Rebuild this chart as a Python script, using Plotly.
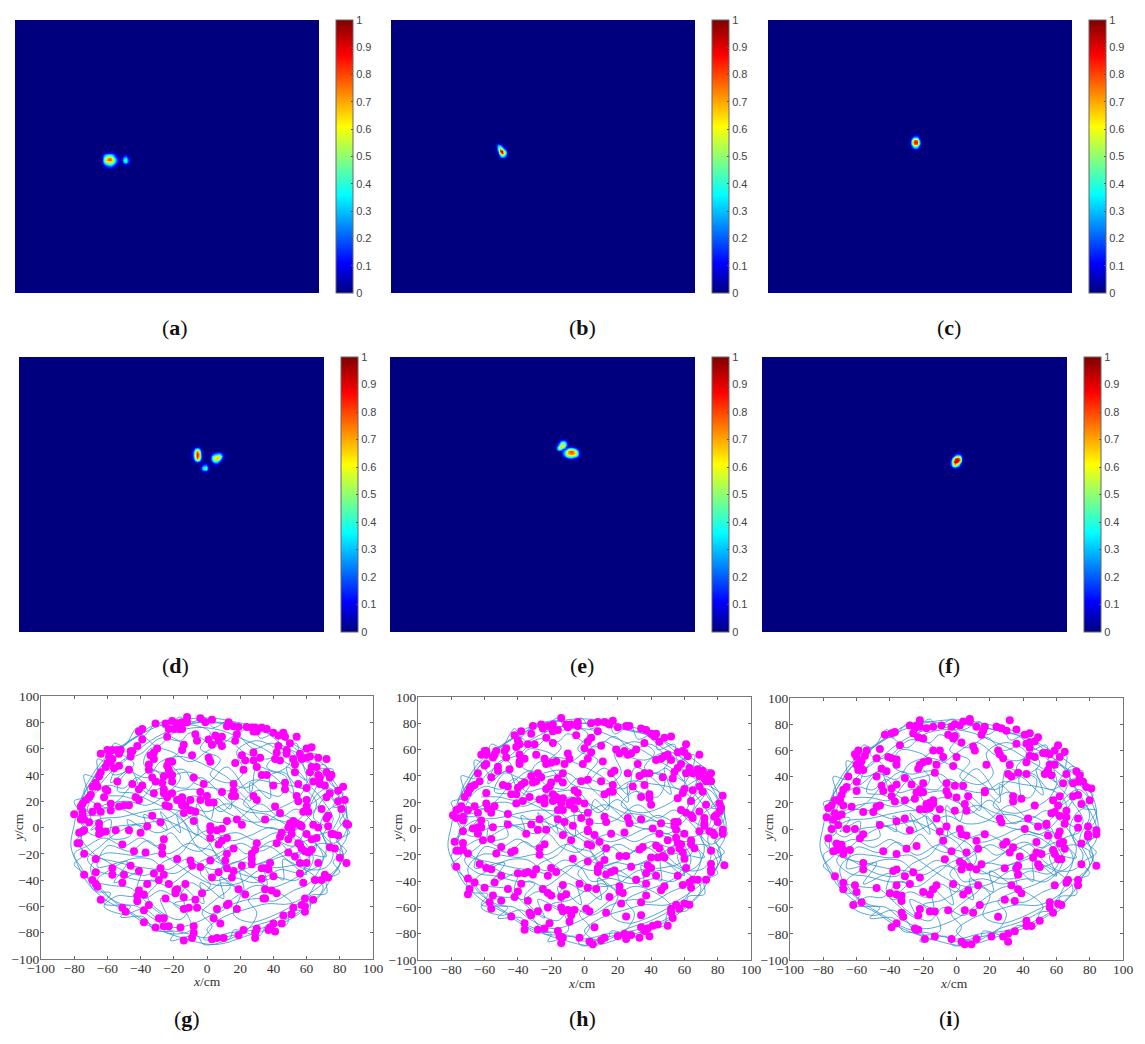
import numpy as np
import plotly.graph_objects as go

W, H = 1145, 1044
PAGE_PAD = 8  # body margin of the written page
ROWS, COLS = 124, 138

# heat blobs, values on a grid of roughly 2.2px cells
A_BLOB_1 = [
    [0, .05, .1, .12, .12, .1, .05, 0, 0],
    [.05, .25, .4, .45, .42, .3, .15, .03, 0],
    [.1, .4, .65, .78, .72, .5, .3, .1, .02],
    [.12, .42, .7, .8, .75, .55, .35, .12, .02],
    [.08, .35, .5, .55, .55, .45, .3, .1, 0],
    [.03, .2, .35, .42, .42, .3, .15, .03, 0],
    [0, .05, .12, .18, .18, .1, .03, 0, 0],
]
A_BLOB_2 = [
    [.02, .12, .15, .03],
    [.1, .3, .35, .1],
    [.15, .4, .42, .15],
    [.1, .3, .35, .12],
    [.02, .1, .12, .03],
]
B_BLOB = [
    [.02, .15, .12, .02, 0, 0],
    [.08, .35, .4, .2, .03, 0],
    [.05, .35, .75, .6, .2, .02],
    [.02, .25, .85, .95, .45, .05],
    [0, .12, .6, .9, .55, .08],
    [0, .03, .25, .45, .3, .05],
    [0, 0, .03, .08, .05, 0],
]
C_BLOB = [
    [0, .03, .1, .1, .03, 0],
    [.02, .2, .45, .4, .12, 0],
    [.05, .4, .8, .75, .3, .02],
    [.08, .5, .9, .88, .4, .05],
    [.05, .42, .8, .75, .35, .03],
    [.01, .18, .4, .35, .12, 0],
    [0, .02, .08, .06, .01, 0],
]
D_BLOB_1 = [
    [0, .05, .1, .08, 0, 0],
    [.03, .3, .45, .3, .05, 0],
    [.1, .5, .75, .55, .15, 0],
    [.12, .6, .85, .7, .2, .01],
    [.12, .6, .85, .7, .25, .01],
    [.1, .5, .8, .6, .2, 0],
    [.03, .3, .5, .4, .1, 0],
    [0, .08, .15, .1, .02, 0],
]
D_BLOB_2 = [
    [0, .08, .2, .25, .28, .2, .05],
    [.05, .3, .5, .6, .65, .4, .08],
    [.05, .35, .6, .7, .6, .3, .03],
    [.03, .3, .5, .5, .35, .1, 0],
    [0, .12, .3, .3, .12, .02, 0],
    [0, .02, .08, .06, .01, 0, 0],
]
D_BLOB_3 = [
    [.03, .15, .18, .05],
    [.12, .38, .42, .15],
    [.12, .38, .42, .12],
    [.02, .12, .12, .02],
]
E_BLOB_1 = [
    [0, 0, .03, .12, .15, .05, 0],
    [0, .02, .12, .35, .42, .2, .02],
    [0, .1, .3, .55, .6, .3, .03],
    [.03, .25, .55, .7, .45, .12, 0],
    [.03, .25, .45, .35, .12, .02, 0],
    [0, .05, .1, .08, .02, 0, 0],
]
E_BLOB_2 = [
    [0, 0, .03, .1, .15, .15, .08, .02, 0, 0],
    [0, .05, .2, .4, .5, .5, .35, .15, .03, 0],
    [.03, .2, .5, .7, .8, .8, .65, .4, .12, .01],
    [.03, .25, .55, .7, .75, .78, .7, .45, .15, .02],
    [.01, .12, .35, .45, .5, .5, .4, .25, .08, 0],
    [0, .02, .1, .18, .22, .2, .12, .05, 0, 0],
]
F_BLOB = [
    [0, 0, 0, .05, .12, .08, .01, 0],
    [0, 0, .1, .35, .5, .4, .08, 0],
    [0, .08, .4, .75, .85, .65, .15, 0],
    [.01, .2, .6, .9, .95, .7, .15, 0],
    [.02, .25, .7, .95, .85, .45, .05, 0],
    [.01, .2, .55, .7, .45, .15, 0, 0],
    [0, .05, .2, .25, .12, .02, 0, 0],
]
# (first column, first row, values)
HEAT_BLOBS = [
    [(39, 60, A_BLOB_1), (48, 61, A_BLOB_2)],
    [(47, 56, B_BLOB)],
    [(64, 52, C_BLOB)],
    [(78, 40, D_BLOB_1), (86, 43, D_BLOB_2), (82, 48, D_BLOB_3)],
    [(74, 37, E_BLOB_1), (77, 40, E_BLOB_2)],
    [(84, 43, F_BLOB)],
]
CB_TICKS = [0, .1, .2, .3, .4, .5, .6, .7, .8, .9, 1]
AXIS_TICKS = [-100, -80, -60, -40, -20, 0, 20, 40, 60, 80, 100]
LETTERS = ["a", "b", "c", "d", "e", "f", "g", "h", "i"]

# the walked path, the same one in all three lower panels
TRAJ = [
    (84,-27),(80,-18),(84,-8),(85,5),(82,18),(78,28),(72,40),(62,50),(55,58),(45,68),(32,76),(18,80),(5,83),(-8,83),(-22,80),
    (-35,74),(-48,64),(-58,55),(-66,42),(-73,28),(-78,14),(-80,2),(-82,-14),(-78,-28),(-72,-42),(-60,-56),(-48,-64),(-36,-74),
    (-15,-84),(5,-89),(25,-82),(40,-76),(55,-66),(68,-52),(75,-38),(82,-20),(70,-12),(58,-18),(45,-22),(30,-28),(18,-26),(5,-32),
    (-8,-28),(-20,-35),(-30,-32),(-42,-30),(-55,-26),(-68,-22),(-76,-15),(-74,-2),(-66,6),(-52,8),(-38,12),(-28,14),(-15,12),
    (-8,4),(-2,-5),(8,-12),(12,-22),(8,-35),(14,-45),(5,-55),(-3,-65),(3,-75),(-2,-85),(12,-83),(24,-78),(30,-65),(25,-55),(35,-48),
    (48,-42),(58,-35),(68,-28),(72,-15),(68,0),(72,12),(80,20),(74,30),(66,25),(60,12),(52,4),(40,6),(28,4),(14,10),(4,18),(-8,24),
    (-18,20),(-25,30),(-35,28),(-42,38),(-50,30),(-60,32),(-68,25),(-72,12),(-60,18),(-48,20),(-36,17),(-26,24),(-16,38),(-22,50),
    (-14,62),(-24,72),(-10,78),(2,72),(-4,60),(8,52),(2,40),(14,34),(22,42),(18,58),(30,66),(42,58),(36,46),(48,38),(44,24),(30,28),
    (22,18),(34,12),(46,16),(56,24),(62,38),(70,48),(76,36),(82,24),(84,8),(78,-4),(82,-22),(76,-34),(66,-42),(60,-54),(48,-62),
    (38,-68),(26,-72),(16,-66),(20,-50),(10,-42),(0,-48),(-10,-42),(-18,-52),(-28,-48),(-38,-54),(-46,-46),(-58,-44),(-70,-40),
    (-76,-30),(-80,-20),(-72,-14),(-62,-8),(-50,-14),(-40,-8),(-30,-14),(-22,-4),(-14,-14),(-4,-18),(6,-8),(18,-4),(30,-10),(42,-4),
    (54,-10),(62,-22),(56,-34),(44,-32),(34,-38),(22,-36),(12,-30),(0,-24),(-12,-34),(-24,-44),(-34,-40),(-44,-52),(-54,-52),
    (-62,-60),(-50,-66),(-38,-62),(-30,-70),(-24,-80),(-10,-78),(-12,-66),(-20,-58),(-8,-54),(2,-44),(-4,-34),(10,-20),(20,-12),
    (32,-18),(44,-12),(52,-24),(62,-32),(72,-30),(76,-20),(70,-6),(76,6),(70,20),(62,32),(54,44),(44,52),(34,60),(20,68),(8,74),
    (-6,76),(-20,72),(-30,62),(-40,70),(-52,58),(-44,48),(-56,40),(-62,48),(-70,34),(-76,20),(-70,8),(-76,-6),(-70,-18),(-60,-26),
    (-48,-34),(-36,-36),(-26,-26),(-16,-20),(-8,-8),(2,-2),(14,-10),(26,-6),(38,0),(50,-4),(60,6),(66,18),(60,28),(50,32),(40,34),
    (28,36),(16,28),(4,30),(-8,34),(-14,44),(-28,42),(-38,48),(-34,60),(-22,58),(-10,50),(0,58),(12,66),(24,56),(36,52),(50,58),
    (60,44),(70,34),(76,22),(80,10),(74,-8),(80,-28),(72,-40),(62,-50),(50,-58),(36,-58),(24,-62),(10,-68),(0,-78),(10,-86),(26,-76),
    (40,-70),(52,-60),(44,-50),(30,-44),(18,-52),(8,-62),(-6,-72),(-20,-76),(-34,-68),(-42,-60),(-52,-58),(-64,-48),(-70,-30),
    (-62,-20),(-52,-20),(-40,-22),(-28,-20),(-18,-28),(-6,-38),(6,-44),(20,-42),(32,-32),(46,-30),(58,-26),(66,-14),(60,-4),(48,2),
    (36,10),(24,12),(12,18),(0,12),(-12,16),(-22,8),(-34,4),(-46,2),(-58,0),(-68,-6),(-76,4),(-74,16),(-66,30),(-58,42),(-46,54),
    (-34,66),(-18,76),(-2,80),(14,78),(28,74),(42,70),(54,62),(66,52),(74,42),(66,36),(56,30),(46,42),(34,38),(22,30),(10,40),(-2,48),
    (-16,54),(-28,50),(-36,38),(-48,42),(-54,28),(-44,26),(-34,20),(-24,14),(-14,4),(-6,-14),(4,-18),(14,-34),(26,-30),(38,-24),
    (50,-16),(62,-10),(70,-22),(62,-42),(52,-48),(40,-56),(30,-54),(16,-58),(4,-66),(-8,-60),(-16,-70),(-28,-64),(-36,-52),(-30,-42),
    (-42,-40),(-54,-36),(-64,-34),(-72,-24),(-64,-14),(-54,-4),(-42,2),(-30,-4),(-18,2),(-6,10),(6,4),(18,6),(32,18),(44,8),(54,14),
    (64,4),(76,-12),(84,-2),(80,14),(74,24),(66,44),(58,54),(46,62),(36,72),(22,76),(8,80),(-6,80),(-18,82),(-32,78),(-44,68),(-54,60),
    (-62,52),(-70,38),(-74,26),(-64,16),(-52,14),(-40,8),(-26,6),(-12,-2),(0,-10),(10,-28),(22,-24),(36,-14),(50,-26),(64,-36),(70,-46),
    (60,-60),(44,-72),(28,-78),(14,-80),(0,-84),(-14,-80),(-30,-76),(-44,-66),(-58,-54),(-66,-40),(-58,-32),(-46,-24),(-34,-24),
    (-24,-32),(-12,-24),(-2,-30),(4,-40),(16,-38),(28,-42),(42,-38),(54,-40),(64,-24),(56,-8),(44,-2),(30,2),(18,14),(8,26),(-4,38),
    (-12,30),(-24,34),(-32,44),(-44,34),(-54,20),(-66,12),(-78,8),
    # wigglier stretches, mostly the rim and the crowded upper half
    (-72,-2),(-79,-10),(-74,-20),(-80,-28),(-73,-36),(-68,-48),(-58,-50),(-62,-58),(-46,-60),(-52,-68),(-38,-68),(-32,-78),(-20,-80),
    (-22,-86),(-6,-82),(-2,-89),(14,-84),(16,-78),(32,-82),(36,-74),(48,-74),(50,-64),(62,-62),(62,-52),(72,-50),(72,-40),(80,-34),
    (76,-26),(84,-18),(78,-10),(86,-4),(80,4),(84,14),(76,16),(82,26),(74,34),(76,44),(66,46),(66,56),(56,52),(54,64),(44,60),(42,72),
    (32,68),(28,78),(18,72),(14,82),(4,76),(-2,84),(-12,78),(-16,84),(-26,76),(-30,80),(-38,70),(-42,76),(-50,62),(-56,64),(-60,50),
    (-66,52),(-66,38),(-74,40),(-72,24),(-80,20),(-74,10),(-64,8),(-70,-2),(-58,6),(-58,-8),(-46,-6),(-48,6),(-36,-2),(-38,10),(-24,-2),
    (-28,12),(-16,-4),(-18,10),(-6,-6),(-6,18),(2,6),(6,22),(14,14),(16,30),(26,20),(26,34),(38,22),(38,40),(52,26),(48,46),(60,36),
    (58,50),(68,42),(62,18),(72,26),(64,8),(74,-2),(64,-8),(72,-22),(56,-20),(60,-36),(46,-24),(46,-40),(34,-28),(36,-44),(20,-32),
    (22,-48),(8,-38),(10,-54),(-4,-42),(-2,-58),(-16,-44),(-14,-60),(-28,-54),(-24,-68),(-42,-48),(-40,-34),(-56,-42),(-48,-26),
    (-66,-30),(-60,-14),(-46,-18),(-36,-10),(-24,-20),(-10,-12),(2,-22),(16,-14),(24,-20),(40,-10),(52,-14),(58,-2),(44,10),(34,4),
    (20,22),(8,12),(-4,28),(-16,28),(-28,22),(-40,30),(-46,44),(-58,34),(-52,50),(-40,56),(-28,68),(-16,66),(-10,72),(6,62),(18,70),
    (28,60),(40,64),(50,50),(42,42),(30,46),(26,26),(12,46),(0,34),(-10,42),(-20,40),(-30,36),(-40,22),(-52,24),(-62,24),
]

G_DOTS = [
    (-12,84),(-12,80),(-4,83),(3,82),(-1,80),(-31,79),(-25,79),(-21,81),(-18,79),(-15,80),(-23,75),(-20,75),(-17,75),(-15,75),(13,80),(12,77),(16,77),(19,76.5),(24,76.5),(27,76),(29,76),(33,76),(36,75),(28,73),(30,73),(40,72),(43,70),(46,72),(47,69),(54,69),(50,64),(43,62),(-39,75),(-41,73),(-39,67),(-42,62),(-24,69),(-7,71),(5,70),(1,67),(9,69),(7,66),(-6,66),(3,63),(9,62),(17,66),(18,71),
    (-14,63),(-15,59),(-9,55),(-30,60),(-32,57),(-34,55),(-32,52),(-35,48),(-35,44),(-23,50),(-21,50),(-24,47),(-23,44),(-22,40),(-26,39),(1,53),(2,50),(21,55),(23,51),(17,49),(22,44),(28,57),(28,51),(32,53),(30,46),(33,40),(36,40),(42,57),(48,59),(48,56),(41,52),(44,51),(52,52),(53,48),(53,42),(56,56),(57,52),(60,53),(62,54),(60,60),(63,61),(67,53),(72,52),(63,46),(66,46),(62,42),(67,40),(68,38),(72,42),(75,40),(74,38),(64,35),(68,33),(71,32),(79,28),(82,31),(74,26),(83,21),(79,20),(72,23),(81,14),(69,14),(73,9),(72,7),(73,1),(84,3),(85,2),
    (-64,56),(-60,59),(-57,59),(-59,54),(-54,59),(-52,59),(-53,56),(-46,58),(-45,58),(-46,54),(-57,52),(-60,49),(-58,49),(-61,46),(-56,45),(-53,47),(-47,44),(-64,42),(-65,39),(-67,34),(-69,31),(-66,31),(-54,35),(-45,33),(-39,32),(-41,29),(-33,38),(-31,35),(-27,34),(-61,29),(-60,28),(-62,23),(-70,25),(-71,23),(-73,21),(-75,18),(-76,16),(-66,16),(-58,18),(-58,13),(-64,12),(-69,12),(-53,16),(-50,17),(-47,17),(-43,23),(-41,21),(-32,26),(-26,29),(-26,26),(-24,25),(-21,26),(-24,23),(-21,40),(-21,35),(-25,17),(-23,16),
    (-18,21),(-15,23),(-10,21),(-15,19),(-13,17),(-15,17),(-14,11),(-10,13),(-7,12),(-4,27),(-2,33),(-8,38),(0,24),(-4,21),(1,19),(4,19),(9,27),(16,33),(16,28),(15,24),(17,24),(28,24),(30,21),(40,32),(47,34),(47,29),(54,24),(55,33),(60,30),(60,21),(55,20),(60,16),(41,16),(44,11),(58,12),(61,12),
    (-80,10),(-75,12),(-75,9),(-76,6),(-74,6),(-71,4),(-65,3),(-33,9),(-28,4),(-36,1),(-8,5),(12,5),(18,6),(21,2),(35,6),(2,1),(2,-2),(6,-2),(9,-1),(-65,-1),(-64,-4),(-61,-3),(-65,-5),(-55,-2),(-47,-2),(-40,-4),(-75,-3),(-74,-2),(-77,-4),
    (50,3),(52,5),(54,3),(56,2),(57,1),(49,0),(51,-1),(45,-4),(51,-5),(44,-7),(64,2),(67,0),(60,-5),(63,-9),(66,-8),(75,-5),(76,-5),(79,-6),
    (-77,-12),(-78,-12),(-26,-9),(2,-8),(12,-8),(9,-10),(7,-13),(49,-9),(55,-12),(-51,-13),(-27,-15),(30,-12),(42,-12),(74,-15),(77,-16),(56,-13),(57,-16),(59,-18),(61,-19),(63,-17),
    (-74,-20),(-44,-18),(-37,-19),(-27,-20),(16,-16),(12,-20),(29,-17),(27,-20),(49,-19),(53,-22),(80,-23),(84,-27),
    (-67,-24),(-18,-24),(-10,-25),(2,-25),(11,-25),(27,-24),(27,-28),(-9,-29),(-4,-30),(21,-29),(56,-27),(60,-27),(67,-27),(-46,-29),(-28,-31),(-57,-31),(12,-31),(38,-27),(36,-31),(33,-31),(37,-32),(-67,-34),(-41,-33),(-32,-35),(-26,-36),(-57,-36),(-50,-36),(-74,-36),(7,-34),(16,-33),(56,-35),(3,-38),(15,-38),(33,-39),(40,-37),(65,-40),(69,-40),(71,-36),(73,-38),(-69,-40),
    (-29,-40),(-51,-42),(-36,-43),(-23,-43),(-13,-43),(-67,-43),(-66,-45),(58,-42),(-18,-47),(-19,-48),(19,-47),(35,-47),(39,-48),(42,-50),(-41,-48),(-38,-51),(-19,-50),(-3,-50),(23,-51),
    (-42,-52),(-14,-53),(-64,-55),(-42,-56),(-25,-54),(-7,-55),(34,-54),(35,-54),(59,-54),(64,-55),(-35,-59),(13,-58),(12,-59),(57,-59),(59,-60),(52,-61),(-51,-61),(-14,-62),(-11,-61),(-6,-61),(6,-62),(18,-62),(-49,-64),(-38,-63),(59,-64),(51,-66),(46,-67),
    (4,-69),(-29,-69),(-26,-69),(-38,-72),(8,-73),(45,-73),(40,-73),(-31,-76),(-26,-75),(-23,-75),(-16,-76),(-8,-75),(38,-76),(37,-78),(41,-79),(30,-77),(22,-78),(29,-80),(19,-82),(-8,-80),(-9,-84),(29,-84),(10,-84),(6,-84),(3,-85),(-14,-86),
]
H_DOTS = [
    (-14,84),(17,82),(12,81),(14,80),(8,81),(4,80),(-4,81),(-4,78),(-11,79),(-8,79),(-10,77),(-19,79),(-22,78),(-26,79),(-31,78),(-25,76),(-19,74),(-16,75),(-32,72),(-38,74),(-42,71),(-23,69),(-19,65),(-5,71),(8,74),(4,69),(2,66),(10,63),(15,79),(20,77),(25,78),(27,78),(34,76),(37,75),(40,72),(43,72),(42,70),(48,69),(52,70),(45,66),(36,65),
    (-40,67),(-41,62),(-39,64),(-34,64),(-30,64),(-47,61),(-48,59),(-47,54),(-53,59),(-54,56),(-55,54),(-59,59),(-60,59),(-62,56),(-59,56),(-29,56),(-39,56),(-36,53),(-39,51),(-39,49),(-24,53),(-23,49),(-20,50),(-17,51),(-10,57),(-9,53),(-12,49),(-1,49),(0,61),(4,58),(2,53),(11,51),(19,60),(21,57),(24,59),(26,56),(28,57),(31,60),(32,49),
    (-59,49),(-60,48),(-52,47),(-52,44),(-45,45),(-64,42),(-56,39),(-63,36),(-66,33),(-68,32),(-69,30),(-70,27),(-72,24),(-59,27),(-49,33),(-46,32),(-36,35),(-38,33),(-40,31),(-44,26),(-41,26),(-33,24),(-32,40),(-28,42),(-26,39),(-31,35),(-29,36),(-20,35),(-21,32),(-23,30),(-13,42),(-16,38),(-13,35),(-2,36),(2,37),(10,36),(17,33),(16,42),(18,44),(26,42),(33,40),(36,42),(39,42),(36,33),(29,32),(12,26),(15,28),(17,28),(34,24),(39,26),(39,23),(40,18),
    (47,39),(53,38),(54,43),(56,46),(58,49),(63,46),(61,42),(43,52),(46,53),(48,55),(50,56),(52,52),(56,58),(59,59),(61,64),(60,58),(62,55),(69,56),(68,45),(71,44),(65,42),(69,40),(72,38),(75,41),(76,42),(73,36),(75,37),(76,36),(69,32),(71,28),(65,29),(60,30),(59,27),(64,21),(56,23),(73,18),(83,25),(81,19),(82,16),(81,13),(79,10),(80,5),(69,13),
    (-9,20),(-7,21),(-4,21),(0,19),(-6,29),(-4,27),(-13,23),(-16,22),(-19,26),(-17,24),(-24,23),(-27,22),(-24,19),(-19,21),(-14,19),(-16,14),(-13,14),(-6,15),(-9,18),(-41,19),(-37,21),(-46,11),(-59,19),(-54,17),(-58,15),(-56,12),
    (-79,10),(-77,8),(-77,14),(-74,17),(-75,15),(-70,14),(-66,17),(-64,12),(-73,9),(-73,6),(-62,6),(-46,3),(-27,7),(-16,7),(-12,5),(-2,8),(2,12),(3,5),(12,9),(13,5),(26,8),(27,4),(34,7),(46,4),(54,5),(56,5),(58,14),(61,12),(64,10),(65,8),(72,8),(72,4),(78,9),
    (-73,-2),(-67,0),(-64,1),(-62,1),(-64,-4),(-55,1),(-61,-9),(-56,-8),(-35,-4),(-32,3),(-28,-1),(-23,-1),(-13,-5),(-7,2),(2,-1),(2,-2),(6,-5),(16,-4),(24,-3),(41,0),(45,-4),(54,2),(55,-1),(60,-4),(69,-2),(72,2),(75,-2),(77,-3),(78,-5),(83,-1),(83,-4),(55,-7),(64,-9),
    (-78,-10),(-73,-11),(-8,-9),(9,-10),(50,-9),(56,-11),(-77,-17),(-75,-17),(-73,-16),(-70,-19),(-50,-14),(-53,-19),(-44,-18),(-42,-17),(-24,-12),(-27,-15),(-27,-20),(2,-12),(4,-13),(13,-15),(33,-16),(35,-14),(43,-13),(45,-15),(52,-17),(57,-15),(59,-18),(64,-12),(66,-15),(76,-17),(58,-12),
    (-7,-23),(2,-25),(12,-24),(21,-21),(25,-21),(28,-29),(40,-22),(44,-22),(47,-21),(48,-22),(60,-23),(61,-30),(76,-27),(76,-31),(76,-33),(84,-28),
    (-77,-29),(-63,-27),(-59,-30),(-56,-31),(-29,-31),(-20,-30),(9,-28),(8,-30),(8,-33),(18,-32),(16,-33),(13,-35),(38,-28),(40,-30),(37,-34),(43,-36),(56,-36),(31,-39),
    (-70,-38),(-66,-41),(-54,-41),(-50,-36),(-40,-34),(-36,-34),(-34,-33),(-31,-35),(-38,-42),(-22,-36),(-17,-33),(-13,-43),(-3,-42),(37,-42),(59,-43),(63,-41),(65,-39),(68,-39),(73,-39),(64,-45),
    (-69,-46),(-70,-50),(-60,-45),(-46,-46),(-40,-48),(-42,-52),(-25,-46),(-22,-49),(-20,-51),(2,-45),(7,-46),(21,-44),(21,-48),(23,-49),(48,-44),(46,-47),(37,-51),(-11,-50),(-14,-52),(15,-52),
    (-55,-51),(-57,-56),(-50,-55),(-34,-55),(22,-57),(34,-56),(-56,-61),(-22,-60),(-14,-60),(-13,-63),(-10,-62),(-6,-62),(1,-61),(3,-63),(-28,-63),(-33,-64),(-32,-66),(-44,-67),(-8,-66),(13,-64),(25,-67),(34,-66),(55,-58),(52,-61),(57,-61),(60,-57),(63,-58),(52,-64),(53,-68),
    (-36,-72),(-36,-77),(-9,-71),(-21,-72),(-24,-76),(6,-75),(-28,-77),(-16,-78),(34,-75),(36,-78),(38,-76),(41,-74),(44,-73),(50,-74),(-15,-82),(-13,-83),(-14,-87),(-3,-83),(12,-83),(10,-85),(20,-82),(24,-80),(25,-84),(28,-81),(33,-83),(39,-82),(3,-86),(5,-88),
]
I_DOTS = [
    (-22,83),(8,84),(8,82),(4,82),(32,83),(-28,79),(-24,79),(-25,77),(-26,73),(-22,78),(-18,77),(-14,78),(-9,79),(-3,78),(-1,80),(2,79),(12,78),(17,78),(16,75),(15,72),(24,78),(27,77),(30,75),(36,76),(41,72),(44,73),(49,70),(47,67),(42,65),(44,66),(44,62),(36,65),(-37,74),(-39,73),(-43,72),(-23,70),(-20,69),(-5,72),(-1,71),(-2,69),(3,66),(10,63),(11,60),
    (-34,64),(-46,61),(-54,60),(-59,60),(-61,57),(-60,55),(-55,56),(-57,52),(-48,54),(-41,55),(-39,54),(-36,53),(-36,49),(-60,49),(-58,49),(-59,45),(-56,45),(-45,46),(-42,44),(-48,40),(-65,40),(-60,36),(-31,39),(-45,33),(-36,34),(-39,31),(-44,29),(-60,29),(-66,32),(-68,30),(-69,26),(-70,23),(-73,22),(-70,21),(-68,18),(-63,17),(-39,25),(-37,21),(-31,22),(-46,18),(-48,17),(-50,13),(-56,13),
    (-27,34),(-20,35),(-13,43),(-12,49),(-14,60),(-10,60),(-8,55),(0,55),(-2,48),(-23,46),(-22,49),(-20,51),(-17,52),(18,49),(25,60),(26,57),(28,54),(32,49),(31,42),(33,40),(37,43),(42,42),(42,51),(44,56),(47,55),(52,58),(54,58),(56,57),(59,60),(61,64),(62,55),(65,59),(56,49),(59,49),(55,45),(53,42),(55,43),(57,41),(66,42),(72,44),(74,41),(64,35),(70,35),(73,36),(76,36),(78,32),(81,31),(73,26),(70,25),(62,25),(58,22),(75,19),(80,22),(61,18),(66,14),(57,12),(59,13),(62,10),(66,9),(65,4),(73,8),(73,1),(79,2),
    (-6,35),(-1,33),(4,33),(-6,29),(-5,26),(0,24),(7,25),(17,28),(17,29),(5,19),(34,25),(34,21),(39,23),(47,18),
    (-24,28),(-22,28),(-20,28),(-22,30),(-25,23),(-14,22),(-16,20),(-18,19),(-14,19),(-22,15),(-19,15),(-16,16),(-10,15),(-1,14),(6,14),
    (-77,16),(-75,18),(-73,12),(-69,11),(-78,9),(-74,7),(-71,10),(-71,3),(-36,6),(-31,8),(-12,8),(26,8),(27,5),(43,8),(-46,3),
    (-75,0),(-66,0),(-61,0),(-56,-4),(-58,-7),(-28,-1),(-6,2),(-10,-2),(2,0),(3,-4),(6,-5),(17,-4),(41,0),(49,2),(54,4),(54,3),(62,-2),(61,-5),(55,-5),(79,-4),(79,-6),(84,-1),(84,-4),(-77,-7),
    (-72,-11),(-69,-12),(-8,-9),(12,-9),(30,-10),(28,-12),(34,-14),(48,-10),(64,-10),(62,-11),(75,-11),(-74,-17),(-72,-16),(-68,-16),(-64,-16),(-68,-19),(-44,-17),(-36,-19),(-30,-15),(-24,-13),(-3,-17),(6,-18),(13,-15),(58,-16),(59,-19),(65,-15),(32,-18),(38,-21),(48,-18),(51,-19),(46,-22),
    (-7,-23),(2,-25),(61,-23),(63,-23),(4,-27),(3,-31),(8,-29),(12,-31),(15,-27),(29,-30),(37,-28),(36,-30),(37,-35),(49,-27),(50,-29),(75,-27),(84,-28),(-56,-26),(-56,-31),(-38,-32),(-36,-31),(-26,-33),
    (-73,-36),(-68,-41),(-61,-43),(-48,-45),(-36,-43),(-31,-36),(-28,-42),(-22,-37),(-2,-42),(13,-43),(33,-43),(59,-43),(66,-41),(67,-39),(73,-39),(73,-43),
    (-68,-46),(-60,-48),(-40,-49),(-36,-50),(-33,-51),(-33,-55),(-20,-48),(-16,-50),(-14,-46),(-12,-43),(7,-47),(4,-50),(37,-46),(39,-49),(29,-54),(35,-55),
    (-62,-58),(-57,-56),(-22,-61),(14,-58),(56,-56),(56,-60),(61,-57),(63,-58),(58,-64),(-33,-64),(-32,-67),(-23,-66),(-16,-63),(-13,-63),(-5,-62),(5,-62),(10,-64),(25,-67),(50,-70),
    (-39,-75),(-36,-72),(-25,-76),(-23,-77),(-24,-77),(42,-70),(42,-74),(45,-74),(31,-80),(35,-78),(28,-82),(-19,-84),(-13,-82),(-3,-84),(12,-84),(21,-82),(31,-86),(3,-86),(5,-88),(9,-88),
]
DOTS = [G_DOTS, H_DOTS, I_DOTS]

JET = [[0, "#00007f"], [.11, "#0000ff"], [.36, "#00ffff"], [.61, "#ffff00"], [.87, "#ff0000"], [1, "#7f0000"]]

# panel frames in page pixels: left, right, top, bottom
HEAT_BOX = [(15, 319, 20, 293), (391, 695, 20, 293), (768, 1072, 20, 293),
            (19, 324, 357, 632), (390, 695, 357, 632), (762, 1067, 357, 632)]
CB_LEFT = [336, 712, 1089, 341, 712, 1084]
TRAJ_BOX = [(41, 373, 696, 959), (418, 751, 697, 960), (790, 1123, 698, 960)]
X_TITLE_POS = [(207, 981), (582, 983), (954, 983)]
Y_TITLE_POS = [(18, 828), (397, 828), (768, 828)]
LABEL_POS = [(175, 327), (582, 327), (949, 327), (175, 665), (582, 665), (949, 665),
             (187, 1018), (582, 1018), (949, 1018)]

PW, PH = W - PAGE_PAD, H - PAGE_PAD


def px_x(x):
    return (x - PAGE_PAD) / PW


def px_y(y):
    return 1 - (y - PAGE_PAD) / PH


def heat_z(blobs):
    z = np.zeros((ROWS, COLS))
    for col, row, vals in blobs:
        vals = np.array(vals)
        h, w = vals.shape
        z[row:row + h, col:col + w] = np.maximum(z[row:row + h, col:col + w], vals)
    return z


fig = go.Figure()
layout = {}

for i, blobs in enumerate(HEAT_BLOBS):
    n = i + 1
    l, r, t, b = HEAT_BOX[i]
    fig.add_trace(go.Heatmap(
        z=heat_z(blobs), xaxis=f"x{n}", yaxis=f"y{n}", zmin=0, zmax=1,
        colorscale=JET, zsmooth="best", hoverinfo="skip",
        colorbar=dict(
            x=px_x(CB_LEFT[i]), xanchor="left", y=px_y(t), yanchor="top",
            len=(b - t) / PH, lenmode="fraction", thickness=17, thicknessmode="pixels",
            xpad=0, ypad=0, outlinecolor="#666666", outlinewidth=1,
            tickvals=CB_TICKS, ticks="inside", ticklen=2, tickcolor="#555555",
            tickfont=dict(family="Liberation Sans", size=11, color="#444444"),
        ),
    ))
    layout[f"xaxis{n}"] = dict(domain=[px_x(l), px_x(r)], anchor=f"y{n}", visible=False, range=[-0.5, COLS - 0.5])
    layout[f"yaxis{n}"] = dict(domain=[px_y(b), px_y(t)], anchor=f"x{n}", visible=False, range=[ROWS - 0.5, -0.5])

traj_x = [p[0] for p in TRAJ]
traj_y = [p[1] for p in TRAJ]

for i, dots in enumerate(DOTS):
    n = i + 7
    l, r, t, b = TRAJ_BOX[i]
    fig.add_trace(go.Scatter(
        x=traj_x, y=traj_y, xaxis=f"x{n}", yaxis=f"y{n}", mode="lines",
        line=dict(color="#2f8fc6", width=0.8, shape="spline", smoothing=1),
        hoverinfo="skip", showlegend=False,
    ))
    fig.add_trace(go.Scatter(
        x=[p[0] for p in dots], y=[p[1] for p in dots], xaxis=f"x{n}", yaxis=f"y{n}",
        mode="markers", marker=dict(color="#ff00ff", size=8),
        hoverinfo="skip", showlegend=False,
    ))
    axis = dict(
        range=[-100, 100], tickvals=AXIS_TICKS, ticks="inside", ticklen=3, tickcolor="#666666",
        showline=True, linecolor="#777777", linewidth=1, mirror="ticks", showgrid=False, zeroline=False,
        tickfont=dict(family="Liberation Serif", size=13.5, color="#333333"),
        tickangle=0, automargin=False,
    )
    layout[f"xaxis{n}"] = dict(axis, domain=[px_x(l), px_x(r)], anchor=f"y{n}", ticklabelstandoff=-3)
    layout[f"yaxis{n}"] = dict(axis, domain=[px_y(b), px_y(t)], anchor=f"x{n}", ticklabelstandoff=-2)

annotations = []
for letter, (x, y) in zip(LETTERS, LABEL_POS):
    annotations.append(dict(
        text=f"(<b>{letter}</b>)", x=px_x(x), y=px_y(y), xref="paper", yref="paper",
        showarrow=False, xanchor="center", yanchor="middle",
        font=dict(family="Liberation Serif", size=22, color="#111111"),
    ))
for (x, y) in X_TITLE_POS:
    annotations.append(dict(
        text="<i>x</i>/cm", x=px_x(x), y=px_y(y), xref="paper", yref="paper",
        showarrow=False, xanchor="center", yanchor="middle",
        font=dict(family="Liberation Serif", size=13.5, color="#333333"),
    ))
for (x, y) in Y_TITLE_POS:
    annotations.append(dict(
        text="<i>y</i>/cm", x=px_x(x), y=px_y(y), xref="paper", yref="paper", textangle=-90,
        showarrow=False, xanchor="center", yanchor="middle",
        font=dict(family="Liberation Serif", size=13.5, color="#333333"),
    ))

fig.update_layout(
    width=PW, height=PH, margin=dict(l=0, r=0, t=0, b=0), paper_bgcolor="white", plot_bgcolor="white",
    showlegend=False, annotations=annotations, **layout,
)

fig.write_html("out.html")
